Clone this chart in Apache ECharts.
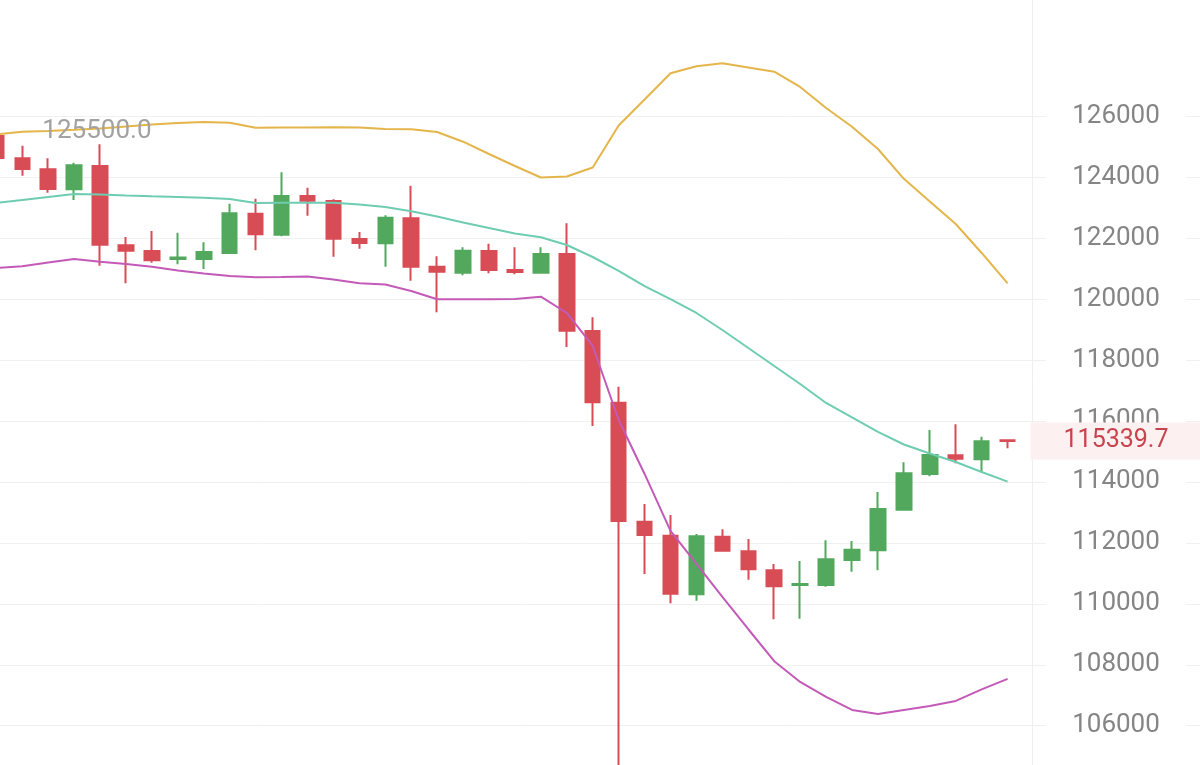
<!DOCTYPE html>
<html>
<head>
<meta charset="utf-8">
<script src="https://cdn.jsdelivr.net/npm/echarts@6/dist/echarts.min.js"></script>
<style>
html,body{margin:0;padding:0;background:#ffffff;}
#chart{width:1200px;height:765px;}
</style>
</head>
<body>
<div id="chart"></div>
<script>
// 4h candles (times UTC); last category is an empty slot to the right of the last candle
const categories = [
  '10-06 20:00','10-07 00:00','10-07 04:00','10-07 08:00','10-07 12:00','10-07 16:00','10-07 20:00',
  '10-08 00:00','10-08 04:00','10-08 08:00','10-08 12:00','10-08 16:00','10-08 20:00',
  '10-09 00:00','10-09 04:00','10-09 08:00','10-09 12:00','10-09 16:00','10-09 20:00',
  '10-10 00:00','10-10 04:00','10-10 08:00','10-10 12:00','10-10 16:00','10-10 20:00',
  '10-11 00:00','10-11 04:00','10-11 08:00','10-11 12:00','10-11 16:00','10-11 20:00',
  '10-12 00:00','10-12 04:00','10-12 08:00','10-12 12:00','10-12 16:00','10-12 20:00',
  '10-13 00:00','10-13 04:00','10-13 08:00','10-13 12:00'
];
const opens  = [125350,124619,124258,123601,124366,121764,121577,121315,121315,121512,122801,122112,123382,123218,121971,121830,122650,121062,120865,121577,120954,120865,121479,118952,116600,112695,112236,110313,112203,111724,111101,110620,110618,111439,111757,113089,114261,114874,114743,115370];
const closes = [124628,124268,123611,124389,121784,121587,121272,121364,121544,122814,122125,123382,123228,121981,121840,122670,121062,120898,121587,120954,120888,121479,118962,116613,112718,112259,110333,112216,111744,111134,110576,110650,111462,111777,113112,114284,114884,114762,115333,115339.7];
const lows   = [124500,124048,123490,123250,121095,120517,121193,121141,120987,121479,121600,122060,122735,121390,121653,121062,120603,119566,120780,120845,120813,120850,118427,115835,103000,110979,110018,110104,111730,110792,109493,109513,110563,111055,111101,113070,114185,114612,114326,115104];
const highs  = [125500,125032,124619,124474,125078,122037,122233,122178,121863,123129,123293,124159,123654,123274,122201,122749,123720,121403,121699,121817,121699,121699,122486,119402,117125,113276,112915,112292,112446,112128,111308,111406,112085,112062,113670,114644,115704,115891,115484,115375];

const upperBand = [125400,125491,125514,125554,125596,125662,125728,125777,125810,125787,125619,125626,125629,125636,125626,125580,125573,125482,125163,124760,124366,123989,124022,124317,125695,126548,127408,127637,127736,127598,127460,126961,126269,125655,124924,123946,123201,122463,121512,120511];
const midBand   = [123152,123251,123349,123447,123431,123398,123372,123349,123323,123283,123152,123159,123162,123162,123103,123021,122880,122709,122512,122332,122151,122027,121774,121380,120923,120426,120000,119543,118985,118394,117803,117213,116590,116114,115639,115228,114933,114654,114326,114008];
const lowerBand = [121019,121075,121200,121315,121226,121151,121059,120937,120839,120757,120714,120724,120741,120642,120517,120478,120265,119992,119992,119992,120002,120078,119543,118460,116032,114261,112391,111308,110225,109165,108115,107436,106944,106518,106386,106518,106649,106813,107190,107535];

const axisMin = 104000;
const axisMax = 128000;
const axisStep = 2000;
const lastPrice = 115339.7;
const peakPrice = 125500;

const UP = '#52a95d';
const DOWN = '#d84c55';

const candles = opens.map((o, i) => [o, closes[i], lows[i], highs[i]]);

const chart = echarts.init(document.getElementById('chart'), null, {renderer: 'canvas'});

const option = {
  animation: false,
  backgroundColor: '#ffffff',
  grid: [
    {left: -16.6, top: 55.25, width: 1063.1, height: 731.4, outerBoundsMode: 'none', containLabel: false},
    {left: 1032, top: 55.25, width: 168, height: 731.4, outerBoundsMode: 'none', containLabel: false},
    {left: 1032, top: 0, width: 168, height: 765, outerBoundsMode: 'none', containLabel: false}
  ],
  xAxis: [
    {type: 'category', gridIndex: 0, data: categories, boundaryGap: true, show: false},
    {type: 'value', gridIndex: 1, min: 0, max: 1, show: false},
    {type: 'value', gridIndex: 2, min: 0, max: 1, show: false}
  ],
  yAxis: [
    {
      type: 'value', gridIndex: 0, min: axisMin, max: axisMax, interval: axisStep,
      position: 'right',
      axisLine: {show: false}, axisTick: {show: false}, axisLabel: {show: false},
      splitLine: {show: true, showMaxLine: false, showMinLine: false, lineStyle: {color: '#f0f0f0', width: 1}}
    },
    {
      type: 'value', gridIndex: 1, min: axisMin, max: axisMax, interval: axisStep,
      position: 'left',
      axisLine: {show: false},
      axisTick: {show: false},
      axisLabel: {
        inside: true, align: 'center', margin: 84, showMaxLabel: false, showMinLabel: false,
        formatter: (v) => String(v),
        color: '#858585', fontSize: 26, fontFamily: 'Roboto',
        backgroundColor: '#ffffff', padding: [4, 26]
      },
      splitLine: {show: true, showMaxLine: false, showMinLine: false, lineStyle: {color: '#f0f0f0', width: 1}}
    },
    {
      type: 'value', gridIndex: 2, min: 0, max: 1,
      position: 'left',
      axisLine: {show: true, lineStyle: {color: '#efefef', width: 1}},
      axisTick: {show: false}, axisLabel: {show: false}, splitLine: {show: false}
    }
  ],
  series: [
    {
      type: 'candlestick', xAxisIndex: 0, yAxisIndex: 0,
      data: candles,
      barWidth: 15,
      itemStyle: {color: UP, color0: DOWN, borderColor: UP, borderColor0: DOWN, borderWidth: 2},
      markPoint: {
        silent: true,
        symbol: 'circle', symbolSize: 0,
        data: [{
          coord: [categories[0], peakPrice],
          label: {
            show: true, position: 'right', distance: 46,
            formatter: peakPrice.toFixed(1),
            color: '#a2a2a2', fontSize: 26, fontFamily: 'Roboto'
          }
        }]
      }
    },
    {
      type: 'line', xAxisIndex: 0, yAxisIndex: 0, data: upperBand,
      symbol: 'none', showSymbol: false, lineStyle: {color: '#e4b54a', width: 2}
    },
    {
      type: 'line', xAxisIndex: 0, yAxisIndex: 0, data: midBand,
      symbol: 'none', showSymbol: false, lineStyle: {color: '#6ecdb1', width: 2}
    },
    {
      type: 'line', xAxisIndex: 0, yAxisIndex: 0, data: lowerBand,
      symbol: 'none', showSymbol: false, lineStyle: {color: '#c45ab8', width: 2}
    },
    {
      type: 'line', xAxisIndex: 1, yAxisIndex: 1, data: [],
      symbol: 'none', z: 10,
      markLine: {
        silent: true,
        symbol: ['none', 'none'],
        lineStyle: {color: 'rgba(0,0,0,0)', width: 0, type: 'solid'},
        label: {
          show: true, position: 'insideMiddle', distance: 0,
          formatter: lastPrice.toFixed(1),
          color: '#c9434f', fontSize: 25, fontFamily: 'Roboto', lineHeight: 25,
          backgroundColor: '#fdf0f0', padding: [6, 33], opacity: 1
        },
        data: [{yAxis: lastPrice}]
      }
    }
  ]
};

chart.setOption(option);
</script>
</body>
</html>
